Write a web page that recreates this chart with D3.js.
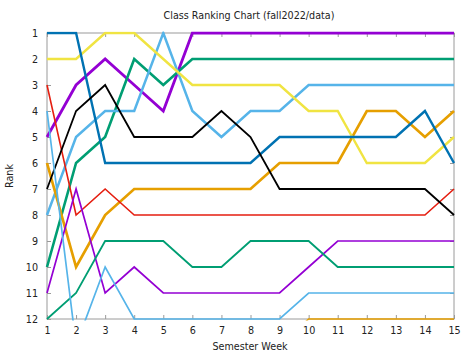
<!DOCTYPE html>
<html>
<head>
<meta charset="utf-8">
<script src="https://cdn.jsdelivr.net/npm/d3@7"></script>
<style>
  html, body { margin: 0; padding: 0; background: #fff; }
  svg { display: block; font-family: "DejaVu Sans", sans-serif; }
</style>
</head>
<body>
<svg id="chart" width="474" height="355"></svg>
<script>
const weeks = [1,2,3,4,5,6,7,8,9,10,11,12,13,14,15];
const rankTicks = [1,2,3,4,5,6,7,8,9,10,11,12];

const purpleA    = [5,3,2,3,4,1,1,1,1,1,1,1,1,1,1];
const greenA     = [10,6,5,2,3,2,2,2,2,2,2,2,2,2,2];
const skyA       = [8,5,4,4,1,4,5,4,4,3,3,3,3,3,3];
const orangeA    = [6,10,8,7,7,7,7,7,6,6,6,4,4,5,4];
const yellowA    = [2,2,1,1,2,3,3,3,3,4,4,6,6,6,5];
const blueA      = [1,1,6,6,6,6,6,6,5,5,5,5,5,4,6];
const redA       = [3,8,7,8,8,8,8,8,8,8,8,8,8,8,7];
const blackA     = [7,4,3,5,5,5,4,5,7,7,7,7,7,7,8];
const purpleB    = [11,7,11,10,11,11,11,11,11,10,9,9,9,9,9];
const greenB     = [12,11,9,9,9,10,10,9,9,9,10,10,10,10,10];
const skyB       = [4,13,10,12,12,12,12,12,12,11,11,11,11,11,11];
const orangeB    = [13,13,13,13,13,13,13,13,13,12,12,12,12,12,12];

const series = [purpleA, greenA, skyA, orangeA, yellowA, blueA, redA, blackA, purpleB, greenB, skyB, orangeB];
const colors = ["#9400d3","#009e73","#56b4e9","#e69f00","#f0e442","#0072b2","#e51e10","#000000","#9400d3","#009e73","#56b4e9","#e69f00"];
const widths = [2.8,2.6,2.5,2.7,2.4,2.4,1.6,1.8,1.7,1.8,1.7,1.5];

const L = 47, R = 454, T = 33, B = 319;
const svg = d3.select("#chart");
const x = d3.scaleLinear().domain([1,15]).range([L,R]);
const y = d3.scaleLinear().domain([1,12]).range([T,B]);

svg.append("defs").append("clipPath").attr("id","clip")
  .append("rect").attr("x", L - 2).attr("y", T - 1.6).attr("width", R - L + 4).attr("height", B - T + 3.2);

const fs = "9.6px", tc = "#222";

// title
svg.append("text").attr("x", 249).attr("y", 19).attr("text-anchor","middle")
  .attr("font-size", fs).attr("fill", tc).text("Class Ranking Chart (fall2022/data)");

// axes with inward ticks
const gx = svg.append("g").attr("transform", `translate(0,${B})`)
  .call(d3.axisBottom(x).tickValues(weeks).tickFormat(d3.format("d")).tickSizeInner(-4).tickSizeOuter(0).tickPadding(8));
const gxt = svg.append("g").attr("transform", `translate(0,${T})`)
  .call(d3.axisTop(x).tickValues(weeks).tickFormat("").tickSizeInner(-4).tickSizeOuter(0));
const gy = svg.append("g").attr("transform", `translate(${L},0)`)
  .call(d3.axisLeft(y).tickValues(rankTicks).tickFormat(d3.format("d")).tickSizeInner(-4).tickSizeOuter(0).tickPadding(9));
const gyr = svg.append("g").attr("transform", `translate(${R},0)`)
  .call(d3.axisRight(y).tickValues(rankTicks).tickFormat("").tickSizeInner(-4).tickSizeOuter(0));
[gx, gxt, gy, gyr].forEach(g => {
  g.selectAll(".domain").remove();
  g.selectAll("line").attr("stroke", "#9a9a9a");
  g.selectAll("text").attr("font-size", fs).attr("fill", tc).attr("font-family", "DejaVu Sans, sans-serif");
});

// border
svg.append("rect").attr("x", L).attr("y", T).attr("width", R - L).attr("height", B - T)
  .attr("fill", "none").attr("stroke", "#9a9a9a").attr("stroke-width", 1);

// lines
const line = d3.line().x((d,i) => x(weeks[i])).y(d => y(d));
const gl = svg.append("g").attr("clip-path", "url(#clip)");
series.forEach((s, k) => {
  gl.append("path").datum(s).attr("d", line).attr("fill","none")
    .attr("stroke", colors[k]).attr("stroke-width", widths[k])
    .attr("stroke-linejoin","miter").attr("stroke-linecap","butt");
});

// axis titles
svg.append("text").attr("x", 250).attr("y", 350).attr("text-anchor","middle")
  .attr("font-size", fs).attr("fill", tc).text("Semester Week");
svg.append("text").attr("transform", "translate(13,176) rotate(-90)").attr("text-anchor","middle")
  .attr("font-size", fs).attr("fill", tc).text("Rank");
</script>
</body>
</html>
